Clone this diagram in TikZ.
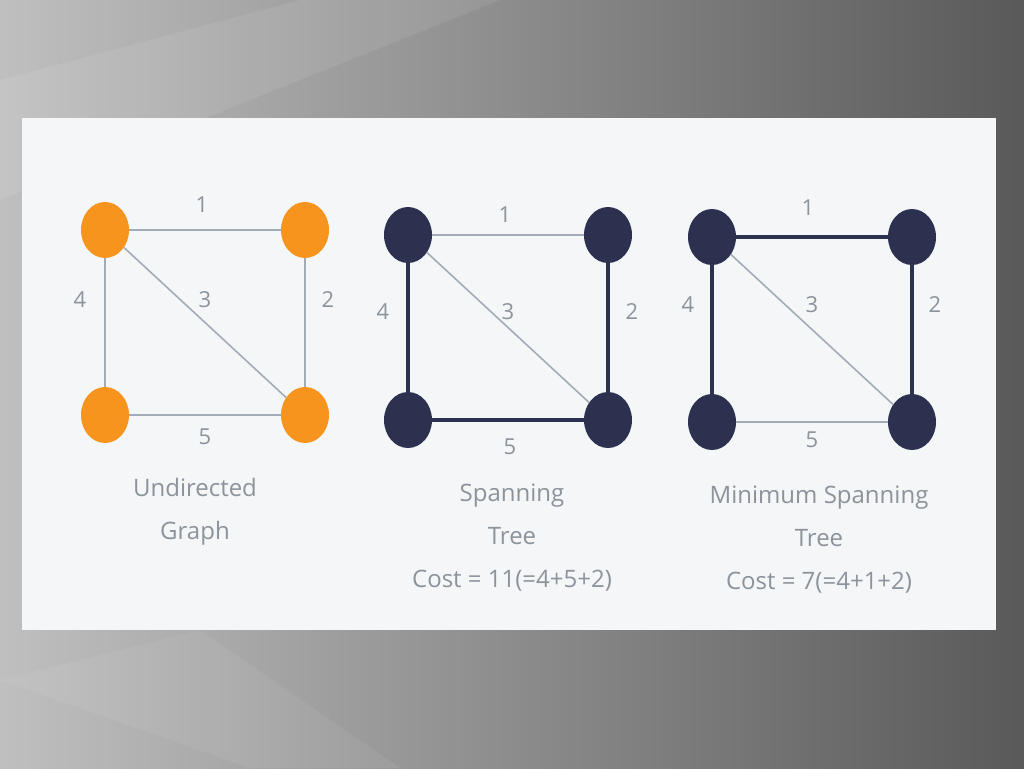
\documentclass[tikz,border=0pt]{standalone}
\usepackage{fontspec}
\setmainfont{Open Sans}
\usetikzlibrary{shapes.geometric}
\begin{document}
\begin{tikzpicture}[x=1pt,y=-1pt,
  onode/.style={ellipse,fill=orng,minimum width=48pt,minimum height=56pt,inner sep=0},
  nnode/.style={ellipse,fill=navy,minimum width=48pt,minimum height=56pt,inner sep=0},
  thinedge/.style={draw=edgegray,line width=1.6pt},
  thickedge/.style={draw=navy,line width=4.5pt},
  lbl/.style={text=labgray,font=\fontsize{22}{26}\selectfont},
  captxt/.style={text=labgray,font=\fontsize{24}{43}\selectfont,align=center}]
\definecolor{navy}{HTML}{2D3150}
\definecolor{edgegray}{HTML}{A3ACB6}
\definecolor{labgray}{HTML}{8C939B}
\definecolor{orng}{HTML}{F7941D}
\definecolor{panel}{HTML}{F4F6F8}
\useasboundingbox (0,0) rectangle (1024,768);
\shade[shading angle=135,left color=gray!50!white,right color=black!65] (0,0) rectangle (1024,768);
\fill[white,opacity=0.08] (0,80) -- (300,0) -- (500,0) -- (0,200) -- cycle;
\fill[white,opacity=0.06] (0,680) -- (200,630) -- (400,768) -- (250,768) -- cycle;
\fill[panel] (22,118) rectangle (996,630);
% graph 1
\node[onode] (a1) at (105,230) {};
\node[onode] (b1) at (305,230) {};
\node[onode] (c1) at (105,415) {};
\node[onode] (d1) at (305,415) {};
\draw[thinedge] (a1)--(b1) (a1)--(c1) (b1)--(d1) (c1)--(d1) (a1)--(d1);
\node[lbl] at (202,205) {1};
\node[lbl] at (80,300) {4};
\node[lbl] at (205,300) {3};
\node[lbl] at (328,300) {2};
\node[lbl] at (205,437) {5};
\node[captxt] (t1) at (195,512) {Undirected\\Graph};
% graph 2
\node[nnode] (a2) at (408,235) {};
\node[nnode] (b2) at (608,235) {};
\node[nnode] (c2) at (408,420) {};
\node[nnode] (d2) at (608,420) {};
\draw[thinedge] (a2)--(b2) (a2)--(d2);
\draw[thickedge] (a2)--(c2) (c2)--(d2) (b2)--(d2);
\node[lbl] at (505,215) {1};
\node[lbl] at (383,312) {4};
\node[lbl] at (508,312) {3};
\node[lbl] at (632,312) {2};
\node[lbl] at (510,447) {5};
\node[captxt] (t2) at (512,538) {Spanning\\Tree\\Cost = 11(=4+5+2)};
% graph 3
\node[nnode] (a3) at (712,237) {};
\node[nnode] (b3) at (912,237) {};
\node[nnode] (c3) at (712,422) {};
\node[nnode] (d3) at (912,422) {};
\draw[thinedge] (c3)--(d3) (a3)--(d3);
\draw[thickedge] (a3)--(b3) (a3)--(c3) (b3)--(d3);
\node[lbl] at (808,208) {1};
\node[lbl] at (688,305) {4};
\node[lbl] at (812,305) {3};
\node[lbl] at (935,305) {2};
\node[lbl] at (812,440) {5};
\node[captxt] (t3) at (819,540) {Minimum Spanning\\Tree\\Cost = 7(=4+1+2)};
\end{tikzpicture}
\end{document}
